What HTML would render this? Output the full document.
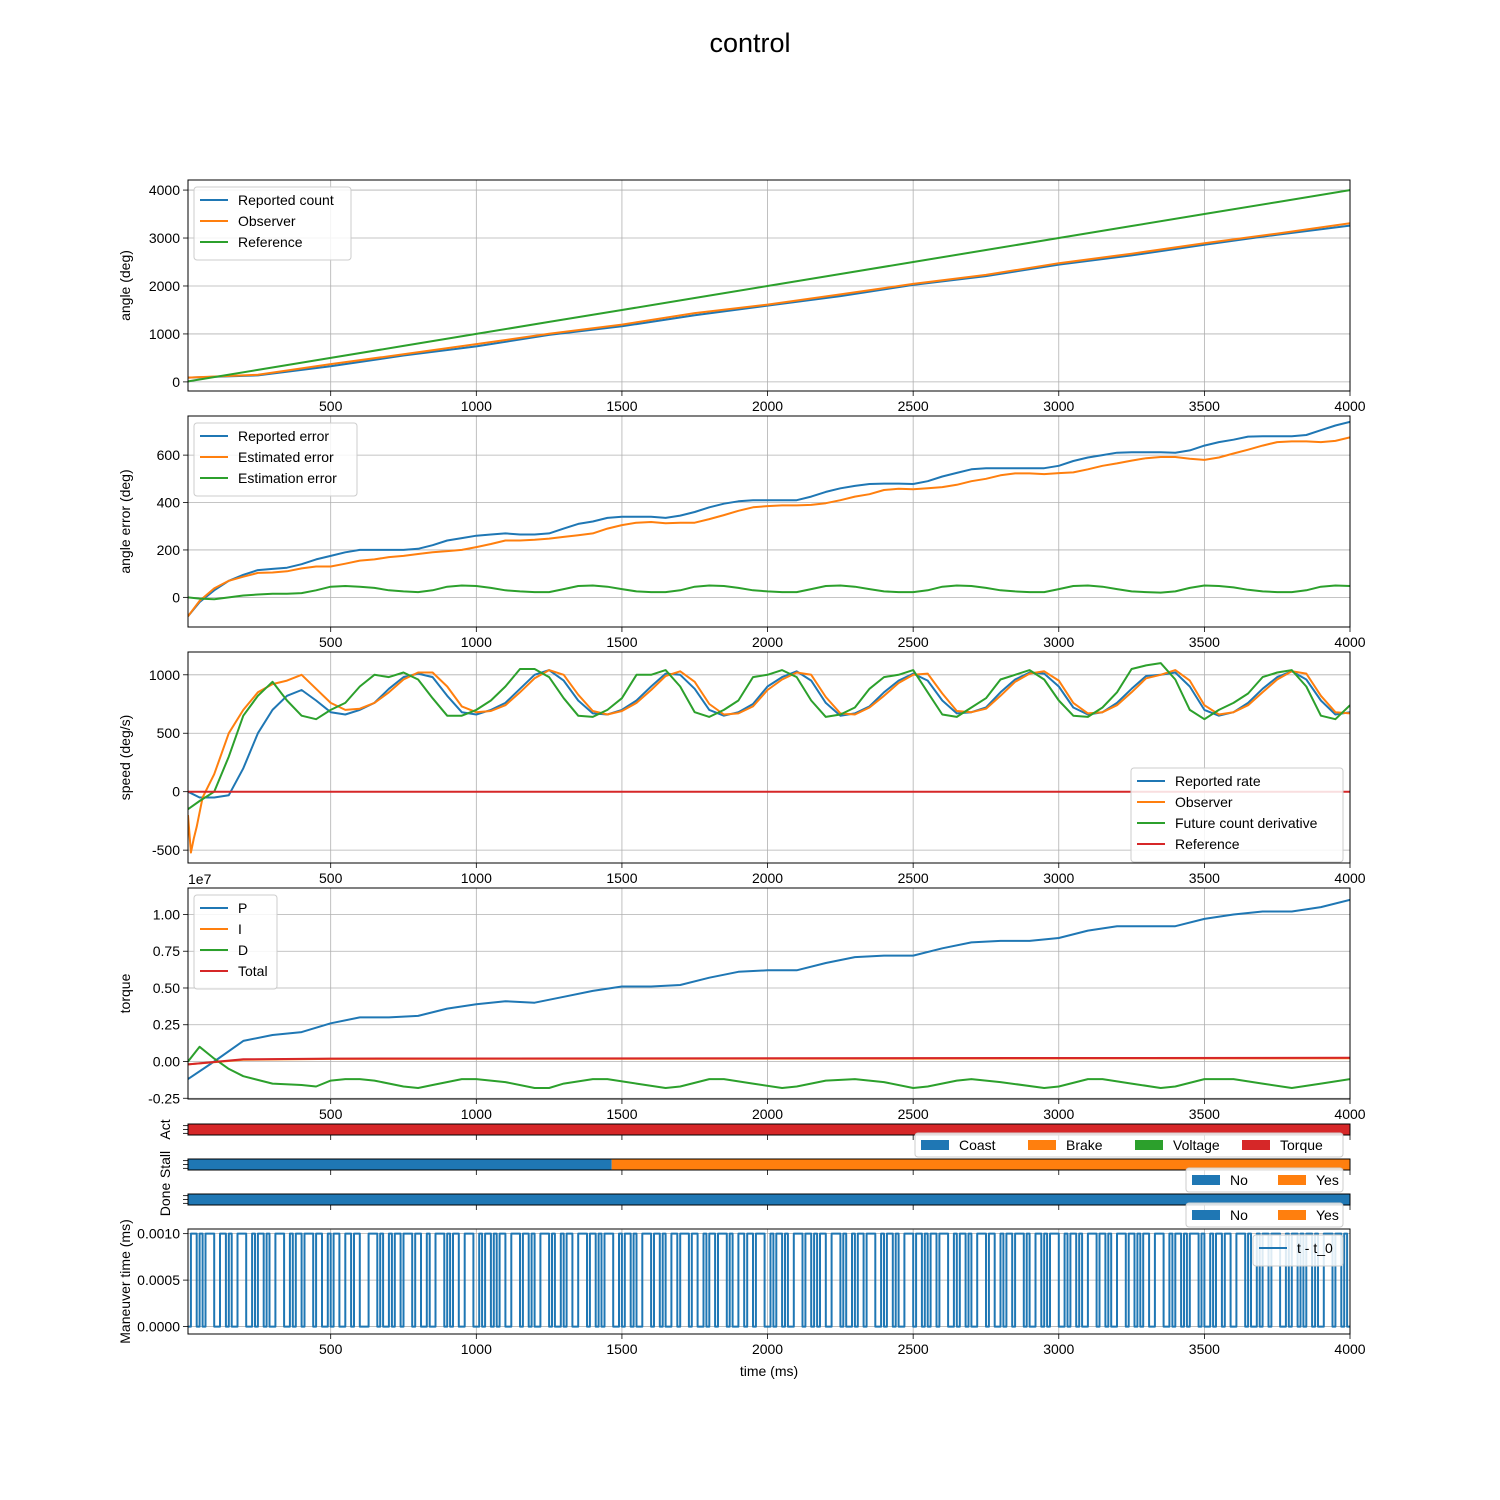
<!DOCTYPE html>
<html><head><meta charset="utf-8"><style>
html,body{margin:0;padding:0;background:#fff;}
svg{display:block;font-family:"Liberation Sans","DejaVu Sans",sans-serif;}
</style></head><body>
<svg id="fig" width="1500" height="1500" viewBox="0 0 1500 1500" xmlns="http://www.w3.org/2000/svg">
<rect width="1500" height="1500" fill="#fff"/>
<text x="750" y="52" text-anchor="middle" font-size="27">control</text>
</svg>
<script>
// ---- data ----
const T2 = [10,250,500,750,1000,1250,1500,1750,2000,2250,2500,2750,3000,3250,3500,3750,4000];
const angleReported = [90,135,325,550,740,980,1160,1390,1590,1790,2022,2205,2445,2638,2860,3070,3260];
const angleObserver = [90,147,370,575,788,1002,1195,1435,1612,1825,2044,2230,2476,2673,2893,3092,3310];
const angleReference = [10,250,500,750,1000,1250,1500,1750,2000,2250,2500,2750,3000,3250,3500,3750,4000];

const T = [10,50,100,150,200,250,300,350,400,450,500,550,600,650,700,750,800,850,900,950,1000,1050,1100,1150,1200,1250,1300,1350,1400,1450,1500,1550,1600,1650,1700,1750,1800,1850,1900,1950,2000,2050,2100,2150,2200,2250,2300,2350,2400,2450,2500,2550,2600,2650,2700,2750,2800,2850,2900,2950,3000,3050,3100,3150,3200,3250,3300,3350,3400,3450,3500,3550,3600,3650,3700,3750,3800,3850,3900,3950,4000];
const errReported = [-80,-20,30,70,95,115,120,125,140,160,175,190,200,200,200,200,205,220,240,250,260,265,270,265,265,270,290,310,320,335,340,340,340,335,345,360,380,395,405,410,410,410,410,425,445,460,470,478,480,480,478,490,510,525,540,545,545,545,545,545,555,575,590,600,610,612,612,612,610,620,640,655,665,678,680,680,680,685,705,725,740];
const errEstimation = [0,-5,-8,0,8,12,15,15,18,30,45,48,45,40,30,25,22,30,45,50,48,40,30,25,22,22,35,48,50,45,35,25,22,22,30,45,50,48,40,30,25,22,22,35,48,50,45,35,25,22,22,30,45,50,48,40,30,25,22,22,35,48,50,45,35,25,22,20,25,40,50,48,42,32,25,22,22,30,45,50,48];
const errEstimated = [-80,-15,38,70,87,103,105,110,122,130,130,142,155,160,170,175,183,190,195,200,212,225,240,240,243,248,255,262,270,290,305,315,318,313,315,315,330,347,365,380,385,388,388,390,397,410,425,435,453,458,456,460,465,475,490,500,515,523,523,520,524,527,540,555,565,577,587,592,592,585,580,590,607,623,640,655,658,658,655,660,675,692];

const spdReported = [0,-50,-50,-30,200,500,700,820,870,780,680,660,700,760,880,980,1010,980,820,680,660,700,760,880,1000,1040,950,780,670,660,700,780,900,1010,1000,880,700,650,680,750,900,980,1030,950,760,650,670,730,850,950,1010,950,780,670,680,720,850,960,1020,1010,900,720,660,680,760,880,990,1000,1020,900,700,650,680,760,880,980,1030,960,780,660,680];
const spdObserverT = [10,20,30,40,60,100,150,200,250,300,350,400,450,500,550,600,650,700,750,800,850,900,950,1000,1050,1100,1150,1200,1250,1300,1350,1400,1450,1500,1550,1600,1650,1700,1750,1800,1850,1900,1950,2000,2050,2100,2150,2200,2250,2300,2350,2400,2450,2500,2550,2600,2650,2700,2750,2800,2850,2900,2950,3000,3050,3100,3150,3200,3250,3300,3350,3400,3450,3500,3550,3600,3650,3700,3750,3800,3850,3900,3950,4000];
const spdObserver = [-200,-520,-400,-300,-50,150,500,700,850,920,950,1000,880,760,700,710,760,850,960,1020,1020,900,730,680,690,740,850,970,1040,1000,830,690,660,690,760,870,990,1030,940,750,660,670,730,870,960,1020,1000,810,670,660,720,820,930,1000,1010,840,690,680,710,820,940,1010,1030,950,760,670,680,740,850,970,1000,1040,950,740,660,680,740,850,960,1030,1010,820,680,670];
const spdFuture = [-150,-80,0,300,650,820,940,780,650,620,700,760,900,1000,980,1020,960,800,650,650,700,780,900,1050,1050,980,800,650,640,700,800,1000,1000,1040,900,680,640,700,780,980,1000,1040,980,780,640,660,720,880,980,1000,1040,850,660,640,720,800,960,1000,1040,960,780,650,640,720,850,1050,1080,1100,960,700,620,700,760,840,980,1020,1040,900,650,620,740];
const spdReference = [0,0];
const spdRefT = [10,4000];

const TP = [10,100,200,300,400,500,600,700,800,900,1000,1100,1200,1300,1400,1500,1600,1700,1800,1900,2000,2100,2200,2300,2400,2500,2600,2700,2800,2900,3000,3100,3200,3300,3400,3500,3600,3700,3800,3900,4000];
const torqueP = [-0.12,0.0,0.14,0.18,0.2,0.26,0.3,0.3,0.31,0.36,0.39,0.41,0.4,0.44,0.48,0.51,0.51,0.52,0.57,0.61,0.62,0.62,0.67,0.71,0.72,0.72,0.77,0.81,0.82,0.82,0.84,0.89,0.92,0.92,0.92,0.97,1.0,1.02,1.02,1.05,1.1];
const TD = [10,50,100,150,200,300,400,450,500,550,600,650,750,800,850,950,1000,1100,1200,1250,1300,1400,1450,1550,1650,1700,1800,1850,1950,2050,2100,2200,2300,2400,2500,2550,2650,2700,2800,2950,3000,3100,3150,3250,3350,3400,3500,3600,3700,3800,3900,4000];
const torqueD = [0.0,0.1,0.02,-0.05,-0.1,-0.15,-0.16,-0.17,-0.13,-0.12,-0.12,-0.13,-0.17,-0.18,-0.16,-0.12,-0.12,-0.14,-0.18,-0.18,-0.15,-0.12,-0.12,-0.15,-0.18,-0.17,-0.12,-0.12,-0.15,-0.18,-0.17,-0.13,-0.12,-0.14,-0.18,-0.17,-0.13,-0.12,-0.14,-0.18,-0.17,-0.12,-0.12,-0.15,-0.18,-0.17,-0.12,-0.12,-0.15,-0.18,-0.15,-0.12];
const TT = [10,200,500,4000];
const torqueI = [-0.02,0.012,0.018,0.022];
const torqueTotal = [-0.02,0.015,0.02,0.025];

const stallSwitch = 1465;
const maneuverBits = "0110101110011010011100101101001110010110111011001011001101100011101001011011101100100111010110011100101101011001110110100111010010110011101101011100101101001110110100110111011001011011101001101101110010110100111011010110011101001011011100101101001110110101101110010110100111011001011011101001101011100101101001110110100111011010110011100101101011101001011011001110100101101110010110101101001110110100101101110101100111010110";
const xTicks = [500,1000,1500,2000,2500,3000,3500,4000];

// ---- layout ----
const NS = "http://www.w3.org/2000/svg";
const svg = document.getElementById('fig');
const X0 = 188, X1 = 1350, XMIN = 10, XMAX = 4000;
const C = {blue:'#1f77b4', orange:'#ff7f0e', green:'#2ca02c', red:'#d62728'};
function sx(v){ return X0 + (v - XMIN) / (XMAX - XMIN) * (X1 - X0); }
function mk(tag, attrs, parent){ const e = document.createElementNS(NS, tag); for (const k in attrs) e.setAttribute(k, attrs[k]); (parent || svg).appendChild(e); return e; }
function txt(x, y, s, anchor, size, parent, extra){ const e = mk('text', Object.assign({x:x, y:y, 'text-anchor':anchor, 'font-size':size||14}, extra||{}), parent); e.textContent = s; return e; }

function axes(name, top, bot, ymin, ymax, yticks, fmt, ylabel, gridY, noXLabels){
  const g = mk('g', {});
  
  
  const sy = v => bot - (v - ymin) / (ymax - ymin) * (bot - top);
  xTicks.forEach(t => { if (gridY !== false) mk('line', {x1:sx(t), x2:sx(t), y1:top, y2:bot, stroke:'#b0b0b0', 'stroke-width':0.8}, g); });
  if (gridY !== false) yticks.forEach(t => mk('line', {x1:X0, x2:X1, y1:sy(t), y2:sy(t), stroke:'#b0b0b0', 'stroke-width':0.8}, g));
  xTicks.forEach(t => { mk('line', {x1:sx(t), x2:sx(t), y1:bot, y2:bot+5, stroke:'#000', 'stroke-width':0.8}, g); if (!noXLabels) txt(sx(t), bot+20, String(t), 'middle', 14, g); });
  yticks.forEach(t => { mk('line', {x1:X0-5, x2:X0, y1:sy(t), y2:sy(t), stroke:'#000', 'stroke-width':0.8}, g); if (fmt) txt(X0-8, sy(t)+5, fmt(t), 'end', 14, g); });
  const lab = txt(0, 0, ylabel, 'middle', 14, g, {transform:`translate(${X0 - (fmt ? 58 : 18)},${(top+bot)/2}) rotate(-90)`});
  
  
  const plot = mk('g', {}, g);
  const clipId = 'c' + name;
  const cp = mk('clipPath', {id:clipId}, g); mk('rect', {x:X0, y:top, width:X1-X0, height:bot-top}, cp);
  plot.setAttribute('clip-path', `url(#${clipId})`);
  return {g, plot, sy, top, bot, frame: () => mk('rect', {x:X0, y:top, width:X1-X0, height:bot-top, fill:'none', stroke:'#000', 'stroke-width':1}, g)};
}
function line(ax, xs, ys, color, name, w){
  const n = Math.min(xs.length, ys.length);
  let d = '';
  for (let i = 0; i < n; i++) d += (i ? 'L' : 'M') + sx(xs[i]).toFixed(1) + ',' + ax.sy(ys[i]).toFixed(1);
  const p = mk('path', {d:d, fill:'none', stroke:color, 'stroke-width':w||2, 'stroke-linejoin':'round'}, ax.plot);
  
  
  return p;
}
function legend(name, x, y, w, entries){
  const g = mk('g', {});
  
  
  mk('rect', {x:x, y:y, width:w, height:entries.length*21+10, rx:3, fill:'#fff', 'fill-opacity':0.85, stroke:'#ccc'}, g);
  entries.forEach((e, i) => {
    const yy = y + 13 + i*21;
    mk('line', {x1:x+6, x2:x+34, y1:yy, y2:yy, stroke:e[1], 'stroke-width':2}, g);
    const t = txt(x+44, yy+5, e[0], 'start', 14, g);
    
    
  });
}
function hlegend(name, x, y, w, entries, gap){
  const g = mk('g', {});
  
  
  mk('rect', {x:x, y:y, width:w, height:24, rx:3, fill:'#fff', 'fill-opacity':0.85, stroke:'#ccc'}, g);
  entries.forEach((e, i) => {
    const xx = x + 6 + i*gap;
    mk('rect', {x:xx, y:y+7, width:28, height:10, fill:e[1]}, g);
    const t = txt(xx+38, y+17, e[0], 'start', 14, g);
    
    
  });
}

// panel 1 angle
const a1 = axes('angle', 180, 391, -190, 4210, [0,1000,2000,3000,4000], v=>String(v), 'angle (deg)');
line(a1, T2, angleReported, C.blue, 'reported-count-line');
line(a1, T2, angleObserver, C.orange, 'observer-line');
line(a1, T2, angleReference, C.green, 'reference-line');
a1.frame();
legend('angle-legend', 194, 187, 157, [['Reported count',C.blue],['Observer',C.orange],['Reference',C.green]]);

// panel 2 angle error
const a2 = axes('angle-error', 416, 627, -125, 765, [0,200,400,600], v=>String(v), 'angle error (deg)');
line(a2, T, errReported, C.blue, 'reported-error-line');
line(a2, T, errEstimated, C.orange, 'estimated-error-line');
line(a2, T, errEstimation, C.green, 'estimation-error-line');
a2.frame();
legend('angle-error-legend', 194, 423, 163, [['Reported error',C.blue],['Estimated error',C.orange],['Estimation error',C.green]]);

// panel 3 speed
const a3 = axes('speed', 652, 863, -610, 1195, [-500,0,500,1000], v=>String(v), 'speed (deg/s)');
line(a3, T, spdReported, C.blue, 'reported-rate-line');
line(a3, spdObserverT, spdObserver, C.orange, 'observer-speed-line');
line(a3, T, spdFuture, C.green, 'future-count-derivative-line');
line(a3, spdRefT, spdReference, C.red, 'speed-reference-line');
a3.frame();
legend('speed-legend', 1131, 768, 212, [['Reported rate',C.blue],['Observer',C.orange],['Future count derivative',C.green],['Reference',C.red]]);

// panel 4 torque
const a4 = axes('torque', 888, 1099, -0.255, 1.18, [-0.25,0,0.25,0.5,0.75,1.0], v=>v.toFixed(2), 'torque');
txt(188, 884, '1e7', 'start', 14);
line(a4, TP, torqueP, C.blue, 'torque-p-line');
line(a4, TT, torqueI, C.orange, 'torque-i-line');
line(a4, TD, torqueD, C.green, 'torque-d-line');
line(a4, TT, torqueTotal, C.red, 'torque-total-line');
a4.frame();
legend('torque-legend', 194, 895, 83, [['P',C.blue],['I',C.orange],['D',C.green],['Total',C.red]]);

// state bars
function bar(name, label, top, segs){
  const bot = top + 11;
  const ax = axes(name, top, bot, 0, 1, [0.15,0.5,0.85], null, label, false, true);
  segs.forEach(s => {
    const r = mk('rect', {x:sx(s[0]), y:top, width:sx(s[1])-sx(s[0]), height:bot-top, fill:s[2]}, ax.plot);
    
    
  });
  ax.frame();
}
bar('act', 'Act', 1124, [[XMIN, XMAX, C.red]]);
hlegend('act-legend', 915, 1133, 428, [['Coast',C.blue],['Brake',C.orange],['Voltage',C.green],['Torque',C.red]], 107);
bar('stall', 'Stall', 1159, [[XMIN, stallSwitch, C.blue],[stallSwitch, XMAX, C.orange]]);
hlegend('stall-legend', 1186, 1168, 157, [['No',C.blue],['Yes',C.orange]], 86);
bar('done', 'Done', 1194, [[XMIN, XMAX, C.blue]]);
hlegend('done-legend', 1186, 1203, 157, [['No',C.blue],['Yes',C.orange]], 86);

// maneuver time
const a5 = axes('maneuver', 1229, 1334, -0.00008, 0.00105, [0,0.0005,0.001], v=>v.toFixed(4), 'Maneuver time (ms)');
(function(){
  const xs = [], ys = [];
  for (let i = 0; i < maneuverBits.length; i++){
    const t0 = XMIN + i*10, v = maneuverBits[i] === '1' ? 0.001 : 0;
    xs.push(t0, t0 + 10); ys.push(v, v);
  }
  line(a5, xs, ys, C.blue, 'maneuver-time-line', 2);
})();
a5.frame();
const xt = txt(769, 1376, 'time (ms)', 'middle', 14);


legend('maneuver-legend', 1253, 1235, 90, [['t - t_0',C.blue]]);
</script>
</body></html>
